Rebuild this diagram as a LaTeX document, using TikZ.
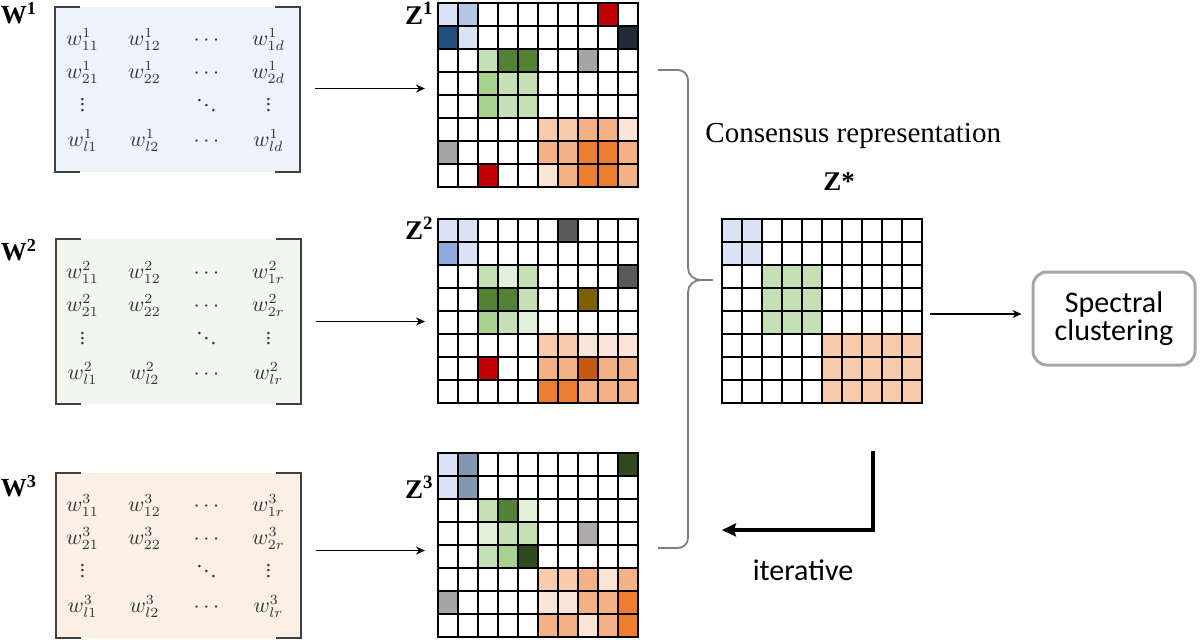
\documentclass[tikz,border=0pt]{standalone}
\usepackage{fontspec}
\setmainfont{Liberation Serif}
\newfontfamily\calibri{Carlito}
\usetikzlibrary{arrows.meta, positioning, matrix, calc}
\definecolor{wblue}{HTML}{EEF2FA}
\definecolor{wgreen}{HTML}{F1F6EE}
\definecolor{worange}{HTML}{FBEFE6}
\definecolor{blueA}{HTML}{DAE3F3}
\definecolor{blueB}{HTML}{B4C7E7}
\definecolor{blueC}{HTML}{8FAADC}
\definecolor{blueD}{HTML}{1F4E79}
\definecolor{blueE}{HTML}{8497B0}
\definecolor{greenA}{HTML}{E2F0D9}
\definecolor{greenB}{HTML}{C5E0B4}
\definecolor{greenC}{HTML}{A9D18E}
\definecolor{greenD}{HTML}{548235}
\definecolor{greenE}{HTML}{2F4A1E}
\definecolor{orangeA}{HTML}{FBE5D6}
\definecolor{orangeB}{HTML}{F8CBAD}
\definecolor{orangeC}{HTML}{F4B183}
\definecolor{orangeD}{HTML}{ED7D31}
\definecolor{orangeE}{HTML}{C55A11}
\definecolor{redcell}{HTML}{C00000}
\definecolor{grayA}{HTML}{A5A5A5}
\definecolor{grayB}{HTML}{595959}
\definecolor{grayC}{HTML}{AEAAAA}
\definecolor{slate}{HTML}{222A35}
\definecolor{olive}{HTML}{7F6000}
\definecolor{boxgray}{HTML}{A6A6A6}
\definecolor{bracegray}{HTML}{7F7F7F}

% short dots for the matrix entries
\newcommand\sdots{\vbox{\baselineskip2.6pt \lineskiplimit0pt \hbox{.}\hbox{.}\hbox{.}}}
\newcommand\sddots{\mathinner{\raise5pt\hbox{.}\mkern1.5mu\raise2.5pt\hbox{.}\mkern1.5mu\hbox{.}}}

% name, x, y, coloured cells as row/col/colour
\newcommand\zcells[4]{%
  \node[zgrid, anchor=north west] (#1) at (#2,#3) {};
  \foreach \r/\c/\cc in {#4} {\fill[\cc] ($(#1.north west)+(\c*20,\r*23)$) rectangle ++(20,23);}
  \foreach \i in {0,...,10} {\draw[gridline] ($(#1.north west)+(\i*20,0)$) -- ++(0,184);}
  \foreach \j in {0,...,8} {\draw[gridline] ($(#1.north west)+(0,\j*23)$) -- ++(200,0);}
}

\begin{document}
\begin{tikzpicture}[x=0.5pt, y=-0.5pt,
    zgrid/.style={minimum width=100pt, minimum height=92pt, inner sep=0pt, outer sep=0pt},
    gridline/.style={line width=1.1pt, line cap=rect},
    wbox/.style={minimum width=122.5pt, minimum height=82.5pt, inner sep=0pt, outer sep=0pt},
    bracket/.style={draw=black!75, line width=0.6pt},
    wmat/.style={matrix of math nodes, inner sep=0pt, column sep=7pt, row sep=4.5pt,
        nodes={text width=24pt, align=center, text height=7pt, text depth=3pt, inner sep=0pt,
            anchor=center, text=black!80, font=\fontsize{10.5}{12}\selectfont}},
    wlabel/.style={font=\fontsize{13}{15}\bfseries, inner sep=0pt},
    zlabel/.style={font=\fontsize{13.5}{15}\bfseries, inner sep=0pt, anchor=east},
    specbox/.style={draw=boxgray, line width=1.5pt, rounded corners=7pt, align=center,
        minimum width=81pt, minimum height=46.5pt, font=\calibri\fontsize{15}{14}\selectfont},
    flow/.style={->, line width=0.75pt},
    >={Stealth[length=4.5pt, width=4pt]}]
    \useasboundingbox (0,0) rectangle (1200,639);

    % input matrices
    \node[wbox, fill=wblue] (w1) at (177.5,89.5) {};
    \node[wbox, fill=wgreen] (w2) at (178.5,321.5) {};
    \node[wbox, fill=worange] (w3) at (178.5,555.5) {};
    \foreach \w in {w1,w2,w3} {
        \draw[bracket] ($(\w.north west)+(25,0)$) -- (\w.north west) -- (\w.south west) -- ++(25,0);
        \draw[bracket] ($(\w.north east)+(-25,0)$) -- (\w.north east) -- (\w.south east) -- ++(-25,0);
    }
    \matrix[wmat] (m1) at ($(w1.center)+(-2,2)$) {
        w^1_{11} & w^1_{12} & \cdots & w^1_{1d} \\[2pt]
        w^1_{21} & w^1_{22} & \cdots & w^1_{2d} \\[2pt]
        \sdots   &          & \sddots & \sdots  \\[3pt]
        w^1_{l1} & w^1_{l2} & \cdots & w^1_{ld} \\
    };
    \matrix[wmat] (m2) at ($(w2.center)+(-3,3.5)$) {
        w^2_{11} & w^2_{12} & \cdots & w^2_{1r} \\[2pt]
        w^2_{21} & w^2_{22} & \cdots & w^2_{2r} \\[2pt]
        \sdots   &          & \sddots & \sdots  \\[3pt]
        w^2_{l1} & w^2_{l2} & \cdots & w^2_{lr} \\
    };
    \matrix[wmat] (m3) at ($(w3.center)+(-3,2)$) {
        w^3_{11} & w^3_{12} & \cdots & w^3_{1r} \\[2pt]
        w^3_{21} & w^3_{22} & \cdots & w^3_{2r} \\[2pt]
        \sdots   &          & \sddots & \sdots  \\[3pt]
        w^3_{l1} & w^3_{l2} & \cdots & w^3_{lr} \\
    };
    \node[wlabel] (lw1) at (19,13) {W\textsuperscript{1}};
    \node[wlabel] (lw2) at (19,250) {W\textsuperscript{2}};
    \node[wlabel] (lw3) at (19,486) {W\textsuperscript{3}};

    % view-specific graphs
    \zcells{z1}{438}{3}{0/0/blueA, 0/1/blueB, 0/8/redcell, 1/0/blueD, 1/1/blueA, 1/9/slate,
        2/2/greenB, 2/3/greenD, 2/4/greenD, 2/7/grayA,
        3/2/greenC, 3/3/greenB, 3/4/greenB, 4/2/greenC, 4/3/greenB, 4/4/greenB,
        5/5/orangeB, 5/6/orangeB, 5/7/orangeC, 5/8/orangeC, 5/9/orangeA,
        6/0/grayA, 6/5/orangeC, 6/6/orangeC, 6/7/orangeD, 6/8/orangeD, 6/9/orangeC,
        7/2/redcell, 7/5/orangeA, 7/6/orangeC, 7/7/orangeD, 7/8/orangeD, 7/9/orangeC}
    \zcells{z2}{438}{219}{0/0/blueA, 0/1/blueA, 0/6/grayB, 1/0/blueC, 1/1/blueA,
        2/2/greenB, 2/3/greenA, 2/4/greenB, 2/9/grayB,
        3/2/greenD, 3/3/greenD, 3/4/greenB, 3/7/olive,
        4/2/greenC, 4/3/greenB, 4/4/greenA,
        5/5/orangeB, 5/6/orangeB, 5/7/orangeA, 5/8/orangeA, 5/9/orangeA,
        6/2/redcell, 6/5/orangeC, 6/6/orangeC, 6/7/orangeE, 6/8/orangeC, 6/9/orangeC,
        7/5/orangeD, 7/6/orangeD, 7/7/orangeC, 7/8/orangeC, 7/9/orangeC}
    \zcells{z3}{438}{453}{0/0/blueA, 0/1/blueE, 0/9/greenE, 1/0/blueA, 1/1/blueE,
        2/2/greenB, 2/3/greenD, 2/4/greenA,
        3/2/greenA, 3/3/greenB, 3/4/greenB, 3/7/grayC,
        4/2/greenB, 4/3/greenC, 4/4/greenE,
        5/5/orangeB, 5/6/orangeB, 5/7/orangeC, 5/8/orangeA, 5/9/orangeC,
        6/0/grayA, 6/5/orangeA, 6/6/orangeA, 6/7/orangeC, 6/8/orangeC, 6/9/orangeD,
        7/5/orangeC, 7/6/orangeC, 7/7/orangeA, 7/8/orangeC, 7/9/orangeD}
    \node[zlabel] (lz1) at (434,13) {Z\textsuperscript{1}};
    \node[zlabel] (lz2) at (434,228) {Z\textsuperscript{2}};
    \node[zlabel] (lz3) at (434,487) {Z\textsuperscript{3}};

    \draw[flow, shorten >=6.5pt] (w1.east) ++(15,-1) coordinate (a1) -- (a1 -| z1.west);
    \draw[flow, shorten >=6.5pt] (w2.east) ++(15,0) coordinate (a2) -- (a2 -| z2.west);
    \draw[flow, shorten >=6.5pt] (w3.east) ++(15,-5) coordinate (a3) -- (a3 -| z3.west);

    % consensus graph
    \zcells{zs}{722}{219}{0/0/blueA, 0/1/blueA, 1/0/blueA, 1/1/blueA,
        2/2/greenB, 2/3/greenB, 2/4/greenB, 3/2/greenB, 3/3/greenB, 3/4/greenB,
        4/2/greenB, 4/3/greenB, 4/4/greenB,
        5/5/orangeB, 5/6/orangeB, 5/7/orangeB, 5/8/orangeB, 5/9/orangeB,
        6/5/orangeB, 6/6/orangeB, 6/7/orangeB, 6/8/orangeB, 6/9/orangeB,
        7/5/orangeB, 7/6/orangeB, 7/7/orangeB, 7/8/orangeB, 7/9/orangeB}
    \node[font=\fontsize{13.5}{15}\bfseries, inner sep=0pt] (lzs) at (839,182) {Z*};
    \node[font=\fontsize{14.5}{16}\selectfont, inner sep=0pt, anchor=base west] (cons) at (705,142) {Consensus representation};

    \coordinate (bt) at (658,70);
    \coordinate (bb) at (658,548);
    \coordinate (tip) at (713,280);
    \draw[bracegray, line width=0.9pt] (bt) -- (678,70) to[out=0,in=90] (688,80) -- (688,268)
        to[out=-90,in=180] (701,280) to[out=180,in=90] (688,292) -- (688,538)
        to[out=-90,in=0] (678,548) -- (bb);
    \draw[bracegray, line width=0.9pt] (701,280) -- (tip);

    \node[specbox] (sc) at (1114,318.5) {Spectral\\clustering};
    \draw[flow, shorten >=5pt] (zs.east) ++(8,3) coordinate (a4) -- (a4 -| sc.west);

    \coordinate (it1) at (873,451);
    \coordinate (it2) at (873,530);
    \coordinate (it3) at (722,530);
    \draw[->, line width=1.6pt, >={Stealth[length=7pt, width=6.5pt, inset=1pt]}] (it1) -- (it2) -- (it3);
    \node[font=\calibri\fontsize{15}{18}\selectfont, inner sep=0pt, anchor=base] (itl) at (803,580) {iterative};
\end{tikzpicture}
\end{document}
